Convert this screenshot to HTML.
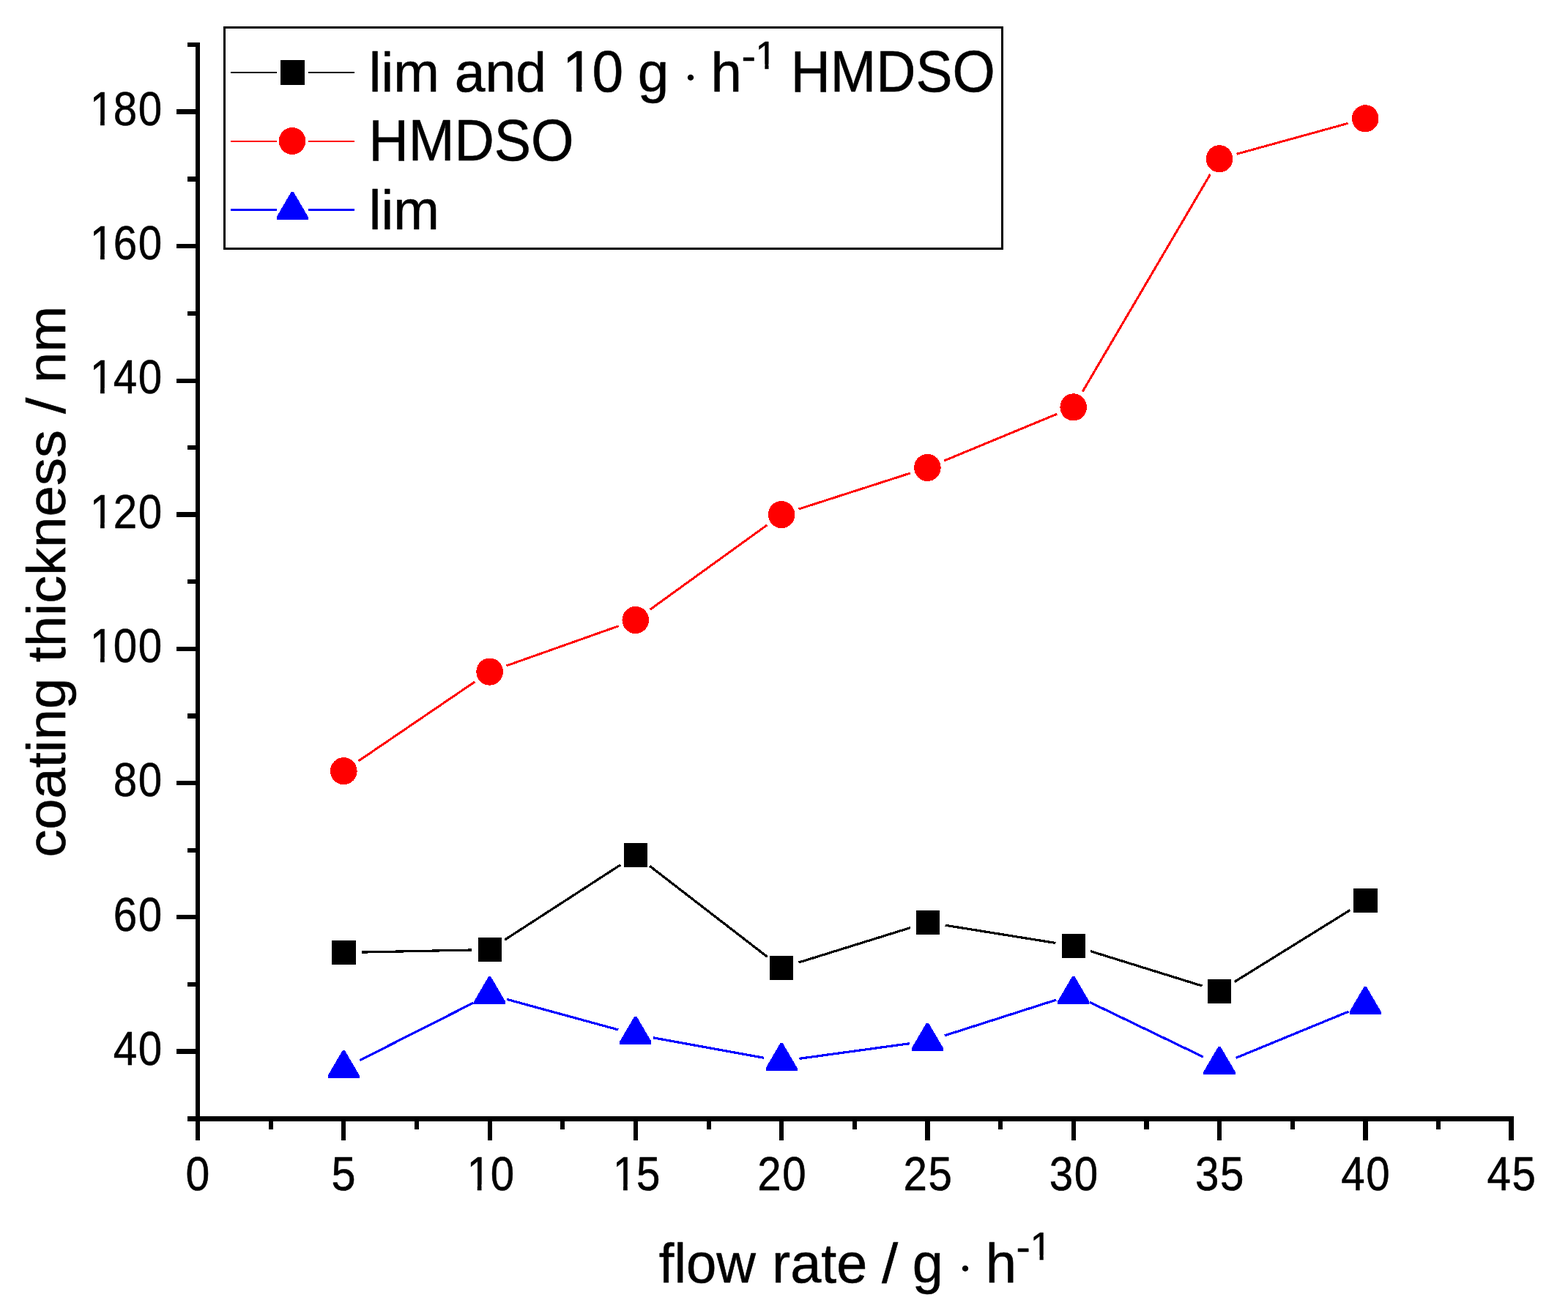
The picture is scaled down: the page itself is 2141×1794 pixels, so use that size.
<!DOCTYPE html>
<html lang="en"><head><meta charset="utf-8"><title>coating thickness vs flow rate</title>
<style>html,body{margin:0;padding:0;background:#fff}body{width:2141px;height:1794px;overflow:hidden}svg{display:block}text{font-family:"Liberation Sans",Arial,sans-serif;fill:#000;stroke:#000;stroke-width:.55px;stroke-linejoin:round}.d{font-family:"Noto Sans CJK SC","Liberation Sans",sans-serif;stroke:none}</style>
</head><body>
<svg width="2141" height="1794" viewBox="0 0 2141 1794">
<defs><clipPath id="c64_4"><path d="M-9 -77.28H580V-7.41H-9ZM17.86 -8.41H24.12V2H17.86ZM35.82 -8.41H580V25.76H35.82Z"/></clipPath><clipPath id="hx"><path clip-rule="evenodd" d="M-50 -50H2200V1850H-50ZM1408.73 1713.40H1419.58V1723.00H1408.73ZM1424.71 1713.40H1435.15V1723.00H1424.71Z"/></clipPath><clipPath id="hl"><path clip-rule="evenodd" d="M-50 -50H2200V1850H-50ZM771.90 116.21H787.08V127.70H771.90ZM794.41 116.21H808.99V127.70H794.41ZM1033.53 87.40H1044.38V97.00H1033.53ZM1049.51 87.40H1059.95V97.00H1049.51Z"/></clipPath></defs>
<rect width="2141" height="1794" fill="#fff"/>
<g fill="#000" shape-rendering="crispEdges">
<rect x="267" y="58" width="6" height="1499"/>
<rect x="256" y="1524" width="1811" height="7"/>
<rect x="466" y="1524" width="6" height="33"/>
<rect x="666" y="1524" width="6" height="33"/>
<rect x="865" y="1524" width="6" height="33"/>
<rect x="1064" y="1524" width="6" height="33"/>
<rect x="1263" y="1524" width="7" height="33"/>
<rect x="1463" y="1524" width="6" height="33"/>
<rect x="1662" y="1524" width="6" height="33"/>
<rect x="1861" y="1524" width="7" height="33"/>
<rect x="2060" y="1524" width="7" height="33"/>
<rect x="367" y="1524" width="6" height="18"/>
<rect x="566" y="1524" width="6" height="18"/>
<rect x="765" y="1524" width="6" height="18"/>
<rect x="965" y="1524" width="6" height="18"/>
<rect x="1164" y="1524" width="6" height="18"/>
<rect x="1363" y="1524" width="6" height="18"/>
<rect x="1562" y="1524" width="7" height="18"/>
<rect x="1762" y="1524" width="6" height="18"/>
<rect x="1961" y="1524" width="6" height="18"/>
<rect x="241" y="149" width="30" height="7"/>
<rect x="241" y="333" width="30" height="6"/>
<rect x="241" y="517" width="30" height="6"/>
<rect x="241" y="699" width="30" height="7"/>
<rect x="241" y="883" width="30" height="6"/>
<rect x="241" y="1066" width="30" height="6"/>
<rect x="241" y="1249" width="30" height="6"/>
<rect x="241" y="1432" width="30" height="7"/>
<rect x="256" y="58" width="15" height="6"/>
<rect x="256" y="241" width="15" height="7"/>
<rect x="256" y="425" width="15" height="6"/>
<rect x="256" y="608" width="15" height="6"/>
<rect x="256" y="791" width="15" height="6"/>
<rect x="256" y="974" width="15" height="7"/>
<rect x="256" y="1158" width="15" height="6"/>
<rect x="256" y="1341" width="15" height="6"/>
</g>
<g>
<text font-size="64.4" transform="translate(253.40 1624.60) scale(0.9160 1)">0</text>
<text font-size="64.4" transform="translate(452.60 1624.60) scale(0.9236 1)">5</text>
<text font-size="64.4" letter-spacing="1.75" clip-path="url(#c64_4)" dx="1.95 -1.95" transform="translate(635.65 1624.60) scale(0.9050 1)">10</text>
<text font-size="64.4" letter-spacing="1.75" clip-path="url(#c64_4)" dx="1.95 -1.95" transform="translate(834.93 1624.60) scale(0.9050 1)">15</text>
<text font-size="64.4" letter-spacing="1.75" transform="translate(1034.21 1624.60) scale(0.9050 1)">20</text>
<text font-size="64.4" letter-spacing="1.75" transform="translate(1233.49 1624.60) scale(0.9050 1)">25</text>
<text font-size="64.4" letter-spacing="1.75" transform="translate(1432.77 1624.60) scale(0.9050 1)">30</text>
<text font-size="64.4" letter-spacing="1.75" transform="translate(1632.05 1624.60) scale(0.9050 1)">35</text>
<text font-size="64.4" letter-spacing="1.75" transform="translate(1831.33 1624.60) scale(0.9050 1)">40</text>
<text font-size="64.4" letter-spacing="1.75" transform="translate(2030.61 1624.60) scale(0.9050 1)">45</text>
<text font-size="64.4" letter-spacing="1.75" transform="translate(154.87 1454.04) scale(0.9050 1)">40</text>
<text font-size="64.4" letter-spacing="1.75" transform="translate(154.87 1270.73) scale(0.9050 1)">60</text>
<text font-size="64.4" letter-spacing="1.75" transform="translate(154.87 1087.42) scale(0.9050 1)">80</text>
<text font-size="64.4" letter-spacing="1.75" clip-path="url(#c64_4)" dx="1.95 -1.95" transform="translate(120.87 904.11) scale(0.9050 1)">100</text>
<text font-size="64.4" letter-spacing="1.75" clip-path="url(#c64_4)" dx="1.95 -1.95" transform="translate(120.87 720.80) scale(0.9050 1)">120</text>
<text font-size="64.4" letter-spacing="1.75" clip-path="url(#c64_4)" dx="1.95 -1.95" transform="translate(120.87 537.48) scale(0.9050 1)">140</text>
<text font-size="64.4" letter-spacing="1.75" clip-path="url(#c64_4)" dx="1.95 -1.95" transform="translate(120.87 354.17) scale(0.9050 1)">160</text>
<text font-size="64.4" letter-spacing="1.75" clip-path="url(#c64_4)" dx="1.95 -1.95" transform="translate(120.87 170.86) scale(0.9050 1)">180</text>
</g>
<text clip-path="url(#hx)"><tspan font-size="76" x="899.85" y="1751.30" textLength="132.07" lengthAdjust="spacingAndGlyphs">flow</tspan> <tspan font-size="76" x="1053.98" y="1751.30" textLength="130.39" lengthAdjust="spacingAndGlyphs">rate</tspan> <tspan font-size="76" x="1203.90" y="1751.30" textLength="22.20" lengthAdjust="spacingAndGlyphs">/</tspan> <tspan font-size="76" x="1245.82" y="1751.30" textLength="42.17" lengthAdjust="spacingAndGlyphs">g</tspan> <tspan class="d" font-size="39.5" x="1298.25" y="1746.60">·</tspan> <tspan font-size="76" x="1345.72" y="1751.30" textLength="42.32" lengthAdjust="spacingAndGlyphs">h</tspan><tspan font-size="53.6" x="1387.43" y="1720.84" textLength="19.23" lengthAdjust="spacingAndGlyphs">-</tspan><tspan font-size="53.6" x="1406.77" y="1720.00" textLength="28.92" lengthAdjust="spacingAndGlyphs">1</tspan></text>
<text transform="translate(89 0) rotate(-90)"><tspan font-size="74.8" x="-1170.62" y="0.00" textLength="244.72" lengthAdjust="spacingAndGlyphs">coating</tspan> <tspan font-size="74.8" x="-904.15" y="0.00" textLength="317.10" lengthAdjust="spacingAndGlyphs">thickness</tspan> <tspan font-size="74.8" x="-565.00" y="0.00" textLength="22.20" lengthAdjust="spacingAndGlyphs">/</tspan> <tspan font-size="74.8" x="-522.92" y="0.00" textLength="105.00" lengthAdjust="spacingAndGlyphs">nm</tspan></text>
<g stroke="#000" stroke-width="3.2" shape-rendering="crispEdges"><line x1="493.77" y1="1300.06" x2="644.07" y2="1297.02"/><line x1="689.12" y1="1283.21" x2="847.28" y2="1180.79"/><line x1="887.23" y1="1182.45" x2="1047.73" y2="1306.39"/><line x1="1090.51" y1="1314.08" x2="1243.01" y2="1266.60"/><line x1="1290.59" y1="1263.21" x2="1441.49" y2="1287.50"/><line x1="1489.08" y1="1298.67" x2="1641.56" y2="1346.08"/><line x1="1685.77" y1="1340.43" x2="1843.43" y2="1242.54"/></g>
<g stroke="#f00" stroke-width="3.0" shape-rendering="crispEdges"><line x1="489.53" y1="1038.94" x2="648.31" y2="930.86"/><line x1="691.65" y1="908.89" x2="844.75" y2="854.67"/><line x1="887.70" y1="832.15" x2="1047.26" y2="716.94"/><line x1="1090.44" y1="695.09" x2="1243.08" y2="645.95"/><line x1="1289.04" y1="629.07" x2="1443.04" y2="565.32"/><line x1="1478.09" y1="534.82" x2="1652.55" y2="237.94"/><line x1="1688.58" y1="210.30" x2="1840.62" y2="168.34"/></g>
<g stroke="#00f" stroke-width="3.2" shape-rendering="crispEdges"><line x1="491.14" y1="1447.70" x2="646.70" y2="1369.00"/><line x1="692.19" y1="1364.39" x2="844.21" y2="1405.92"/><line x1="891.94" y1="1416.77" x2="1043.02" y2="1444.29"/><line x1="1091.39" y1="1445.35" x2="1242.13" y2="1424.69"/><line x1="1289.73" y1="1413.89" x2="1442.35" y2="1365.04"/><line x1="1487.75" y1="1368.21" x2="1642.89" y2="1442.99"/><line x1="1687.62" y1="1444.31" x2="1841.58" y2="1381.00"/></g>
<g fill="#000" shape-rendering="crispEdges"><rect x="453" y="1284" width="33" height="33"/><rect x="653" y="1280" width="32" height="33"/><rect x="852" y="1151" width="32" height="33"/><rect x="1051" y="1305" width="32" height="33"/><rect x="1251" y="1243" width="32" height="33"/><rect x="1450" y="1275" width="32" height="33"/><rect x="1649" y="1337" width="32" height="33"/><rect x="1848" y="1213" width="33" height="33"/></g>
<g fill="#f00" shape-rendering="crispEdges"><ellipse cx="469.3" cy="1052.7" rx="18.3" ry="18.6"/><ellipse cx="668.6" cy="917.1" rx="18.3" ry="18.6"/><ellipse cx="867.8" cy="846.5" rx="18.3" ry="18.6"/><ellipse cx="1067.1" cy="702.6" rx="18.3" ry="18.6"/><ellipse cx="1266.4" cy="638.4" rx="18.3" ry="18.6"/><ellipse cx="1465.7" cy="555.9" rx="18.3" ry="18.6"/><ellipse cx="1665.0" cy="216.8" rx="18.3" ry="18.6"/><ellipse cx="1864.2" cy="161.8" rx="18.3" ry="18.6"/></g>
<g fill="#00f" shape-rendering="crispEdges"><path d="M467.7 1434.2H470.9L490.9 1468.4V1472.2H447.7V1468.4Z"/><path d="M667.0 1333.3H670.2L690.2 1367.5V1371.3H647.0V1367.5Z"/><path d="M866.2 1387.8H869.4L889.4 1422.0V1425.8H846.2V1422.0Z"/><path d="M1065.5 1424.1H1068.7L1088.7 1458.3V1462.1H1045.5V1458.3Z"/><path d="M1264.8 1396.8H1268.0L1288.0 1431.0V1434.8H1244.8V1431.0Z"/><path d="M1464.1 1333.0H1467.3L1487.3 1367.2V1371.0H1444.1V1367.2Z"/><path d="M1663.4 1429.0H1666.6L1686.6 1463.2V1467.0H1643.4V1463.2Z"/><path d="M1862.6 1347.1H1865.8L1885.8 1381.3V1385.1H1842.6V1381.3Z"/></g>
<rect x="306.5" y="37.5" width="1062" height="302" fill="#fff" stroke="#000" stroke-width="3" shape-rendering="crispEdges"/>
<g fill="#000" shape-rendering="crispEdges"><rect x="315" y="98.0" width="63" height="2"/><rect x="421" y="98.0" width="63" height="2"/></g>
<rect x="383" y="82" width="33" height="34" fill="#000" shape-rendering="crispEdges"/>
<g fill="#f00" shape-rendering="crispEdges"><rect x="315" y="192.0" width="63" height="2"/><rect x="421" y="192.0" width="63" height="2"/></g>
<ellipse cx="399" cy="192.5" rx="18.3" ry="18.6" fill="#f00" shape-rendering="crispEdges"/>
<g fill="#00f" shape-rendering="crispEdges"><rect x="315" y="285.0" width="63" height="3"/><rect x="421" y="285.0" width="63" height="3"/></g>
<g fill="#00f" shape-rendering="crispEdges"><path d="M397.6 262.0H400.8L420.8 296.2V300.0H377.6V296.2Z"/></g>
<text clip-path="url(#hl)"><tspan font-size="76.5" x="503.83" y="124.70" textLength="96.13" lengthAdjust="spacingAndGlyphs">lim</tspan> <tspan font-size="76.5" x="620.81" y="124.70" textLength="125.12" lengthAdjust="spacingAndGlyphs">and</tspan> <tspan font-size="78.8" x="768.05" y="124.70" textLength="42.69" lengthAdjust="spacingAndGlyphs">1</tspan><tspan font-size="78.8" x="808.41" y="124.70" textLength="42.69" lengthAdjust="spacingAndGlyphs">0</tspan> <tspan font-size="76.5" x="870.69" y="124.70" textLength="42.54" lengthAdjust="spacingAndGlyphs">g</tspan> <tspan class="d" font-size="39.5" x="923.25" y="120.60">·</tspan> <tspan font-size="76.5" x="970.61" y="124.70" textLength="42.45" lengthAdjust="spacingAndGlyphs">h</tspan><tspan font-size="53.6" x="1012.40" y="95.09" textLength="19.51" lengthAdjust="spacingAndGlyphs">-</tspan><tspan font-size="53.6" x="1031.57" y="94.00" textLength="28.92" lengthAdjust="spacingAndGlyphs">1</tspan> <tspan font-size="78.8" x="1079.75" y="124.70" textLength="278.93" lengthAdjust="spacingAndGlyphs">HMDSO</tspan></text>
<text><tspan font-size="78.8" x="503.53" y="218.70" textLength="280.07" lengthAdjust="spacingAndGlyphs">HMDSO</tspan></text>
<text><tspan font-size="76.5" x="503.83" y="312.90" textLength="96.13" lengthAdjust="spacingAndGlyphs">lim</tspan></text>
</svg></body></html>
